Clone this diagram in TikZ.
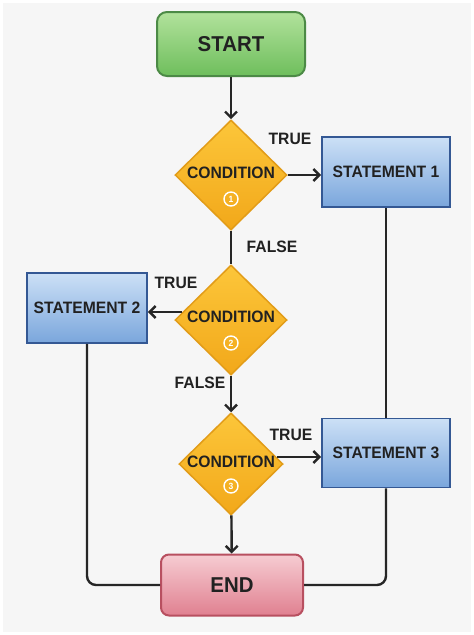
\documentclass[tikz,border=0pt]{standalone}
\usepackage{fontspec}
\setmainfont[FakeStretch=0.95]{Liberation Sans}
\usetikzlibrary{arrows.meta,shapes.geometric}

\definecolor{bgc}{RGB}{246,246,246}
\definecolor{grnt}{RGB}{178,226,156}
\definecolor{grnb}{RGB}{110,190,92}
\definecolor{grnd}{RGB}{76,138,70}
\definecolor{bluet}{RGB}{204,224,246}
\definecolor{blueb}{RGB}{122,166,220}
\definecolor{blued}{RGB}{52,88,148}
\definecolor{orgt}{RGB}{252,198,58}
\definecolor{orgb}{RGB}{242,168,26}
\definecolor{orgd}{RGB}{226,156,24}
\definecolor{redt}{RGB}{246,204,210}
\definecolor{redb}{RGB}{224,128,144}
\definecolor{redd}{RGB}{184,80,96}

\begin{document}
\begin{tikzpicture}[x=1pt,y=-1pt,font=\bfseries\fontsize{16.5}{19}\selectfont,text=black!87]
\tikzstyle{arc}=[-{Straight Barb[length=6pt,width=12pt]},line width=2.4pt,draw=black!85]
\tikzstyle{line}=[line width=2.4pt,draw=black!85,rounded corners=9pt]
\tikzstyle{term}=[rectangle,rounded corners=10pt,line width=2pt,minimum width=148pt,minimum height=64pt,font=\bfseries\fontsize{21.5}{25}\selectfont]
\tikzstyle{stmt}=[rectangle,line width=1.8pt,draw=blued,top color=bluet,bottom color=blueb,inner sep=2pt,minimum width=128pt,minimum height=70pt]
\tikzstyle{cond}=[diamond,line width=1.5pt,draw=orgd,top color=orgt,bottom color=orgb,inner sep=0pt,minimum width=112pt,minimum height=110pt]
\tikzstyle{num}=[circle,draw=white,line width=1.4pt,text=white,inner sep=0pt,minimum size=14pt,font=\bfseries\fontsize{9}{9}\selectfont]
%% background %%
\fill[white] (0,0) rectangle (474,635);
\fill[bgc] (3,3) rectangle (471,632);
%% TikZ-figure elements %%
\node[term,draw=grnd,top color=grnt,bottom color=grnb] at (231,44) (start) {START};
\node[cond] at (231,175) (c1) {};
\node at (231,173) (c1t) {CONDITION};
\node[num] at (231,199) (n1) {1};
\node[stmt] at (386,172) (s1) {STATEMENT 1};
\node[cond] at (231,320) (c2) {};
\node at (231,317) (c2t) {CONDITION};
\node[num] at (231,343) (n2) {2};
\node[stmt,minimum width=120pt] at (87,308) (s2) {STATEMENT 2};
\node[cond,minimum width=104pt,minimum height=102pt] at (231,464) (c3) {};
\node at (231,462) (c3t) {CONDITION};
\node[num] at (231,486) (n3) {3};
\node[stmt,minimum height=69pt] at (386,453) (s3) {STATEMENT 3};
\node[term,draw=redd,top color=redt,bottom color=redb,rounded corners=8pt,minimum width=142pt,minimum height=61pt] at (232,585) (end) {END};
%% labels %%
\node at (290,139) (t1) {TRUE};
\node at (272,247) (f1) {FALSE};
\node at (176,283) (t2) {TRUE};
\node at (200,383) (f2) {FALSE};
\node at (291,435) (t3) {TRUE};
%% connectors %%
\coordinate (a2) at ([xshift=8pt,yshift=8pt]c2.west);
\coordinate (a3) at ([xshift=-7pt,yshift=7pt]c3.east);
\draw[arc] (start) -- (c1);
\draw[arc] (c1.east) -- (c1.east -| s1.west);
\draw[line] (c1) -- (c2);
\draw[arc] (a2) -- (a2 -| s2.east);
\draw[arc] (c2) -- (c3);
\draw[arc] (a3) -- (a3 -| s3.west);
\draw[arc] (c3) -- (end);
\draw[line] (s1) -- (s3);
\draw[line] (s2.south) |- (end.west);
\draw[line] (s3.south) |- (end.east);
\end{tikzpicture}
\end{document}
